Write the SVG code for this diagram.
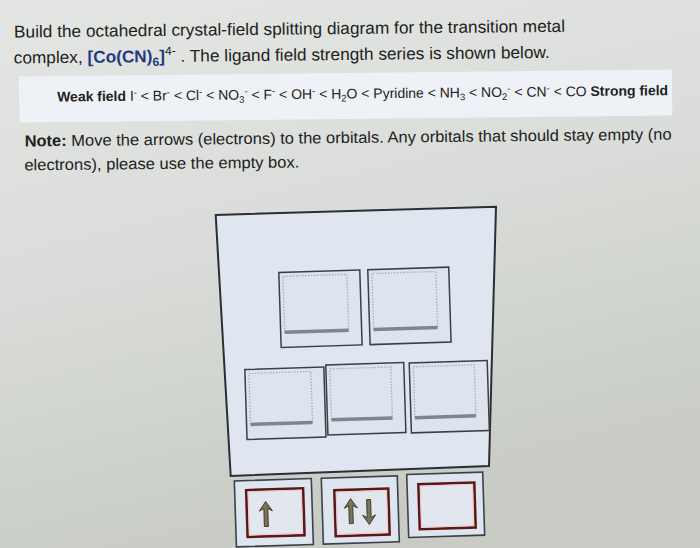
<svg xmlns="http://www.w3.org/2000/svg" width="700" height="548" viewBox="0 0 700 548">
<defs>
<linearGradient id="bg" x1="0" y1="0" x2="0.3" y2="1">
<stop offset="0" stop-color="#e4e6e3"/>
<stop offset="0.5" stop-color="#d9dcd8"/>
<stop offset="1" stop-color="#c8ccc5"/>
</linearGradient>
<path id="up" d="M0,-12.5 L6.5,-3 L2,-5.5 L2,12.5 L-2,12.5 L-2,-5.5 L-6.5,-3 Z"/>
<style>
.t{font-family:"Liberation Sans",Arial,sans-serif;fill:#222;}
.b{font-weight:bold;}
.cx{font-weight:bold;fill:#1f3a80;}
.frame{fill:#dfe6ef;stroke:#2b2f35;stroke-width:2;}
.orb{fill:#dde4ed;stroke:#3a3f46;stroke-width:1.5;}
.slot{fill:none;stroke:#a7adb6;stroke-width:1.3;stroke-dasharray:1.5 1.5;}
.bar{stroke:#7f858c;stroke-width:3.5;}
.tile{fill:#dde5ee;stroke:#3a414b;stroke-width:1.6;}
.hold{fill:#e2e6ee;stroke:#5c1616;stroke-width:2.5;}
.glow{fill:none;stroke:#efc9c9;stroke-width:1;}
.arr{fill:#7b7458;stroke:#37342a;stroke-width:0.9;}
</style>
</defs>
<rect width="700" height="548" fill="url(#bg)"/>
<g id="text" transform="rotate(-0.6 350 274)">
<text class="t" x="16.5" y="34" font-size="17" textLength="551" lengthAdjust="spacingAndGlyphs">Build the octahedral crystal-field splitting diagram for the transition metal</text>
<text class="t" x="16" y="60" font-size="17" textLength="536" lengthAdjust="spacingAndGlyphs">complex, <tspan class="cx">[Co(CN)</tspan><tspan class="cx" font-size="12" dy="4">6</tspan><tspan class="cx" dy="-4">]</tspan><tspan font-size="12" dy="-7">4-</tspan><tspan dy="7"> . The ligand field strength series is shown below.</tspan></text>
<rect id="series-box" x="21" y="73" width="653" height="46" fill="#eef1f5"/>
<text class="t" x="59" y="98.5" font-size="14" textLength="611" lengthAdjust="spacingAndGlyphs"><tspan class="b">Weak field</tspan> I<tspan font-size="9.5" dy="-5">-</tspan><tspan dy="5"> &lt; Br</tspan><tspan font-size="9.5" dy="-5">-</tspan><tspan dy="5"> &lt; Cl</tspan><tspan font-size="9.5" dy="-5">-</tspan><tspan dy="5"> &lt; NO</tspan><tspan font-size="9.5" dy="3">3</tspan><tspan font-size="9.5" dy="-8">-</tspan><tspan dy="5"> &lt; F</tspan><tspan font-size="9.5" dy="-5">-</tspan><tspan dy="5"> &lt; OH</tspan><tspan font-size="9.5" dy="-5">-</tspan><tspan dy="5"> &lt; H</tspan><tspan font-size="9.5" dy="3">2</tspan><tspan dy="-3">O &lt; Pyridine &lt; NH</tspan><tspan font-size="9.5" dy="3">3</tspan><tspan dy="-3"> &lt; NO</tspan><tspan font-size="9.5" dy="3">2</tspan><tspan font-size="9.5" dy="-8">-</tspan><tspan dy="5"> &lt; CN</tspan><tspan font-size="9.5" dy="-5">-</tspan><tspan dy="5"> &lt; CO </tspan><tspan class="b">Strong field</tspan></text>
<text class="t" x="26" y="143" font-size="16" textLength="647" lengthAdjust="spacingAndGlyphs"><tspan class="b">Note:</tspan> Move the arrows (electrons) to the orbitals. Any orbitals that should stay empty (no</text>
<text class="t" x="25.5" y="167" font-size="16" textLength="275" lengthAdjust="spacingAndGlyphs">electrons), please use the empty box.</text>
</g>
<g id="diagram">
<polygon id="frame" class="frame" points="215.7,215 496,206.7 489,466 230.7,476"/>
<g transform="rotate(-1.8 358 341)">
<g id="eg1"><rect class="orb" x="281" y="270" width="81" height="75"/><path class="slot" d="M285,330 V274 H349 V330"/><line class="bar" x1="285" y1="330" x2="349" y2="330"/></g>
<g id="eg2"><rect class="orb" x="370" y="270" width="81" height="75"/><path class="slot" d="M374,330 V274 H438 V330"/><line class="bar" x1="374" y1="330" x2="438" y2="330"/></g>
<g id="t2g1"><rect class="orb" x="244" y="366" width="79" height="70"/><path class="slot" d="M248,421 V370 H310 V421"/><line class="bar" x1="248" y1="421" x2="310" y2="421"/></g>
<g id="t2g2"><rect class="orb" x="325" y="364" width="78" height="70"/><path class="slot" d="M329,419 V368 H390 V419"/><line class="bar" x1="329" y1="419" x2="390" y2="419"/></g>
<g id="t2g3"><rect class="orb" x="408.5" y="364.5" width="78" height="70"/><path class="slot" d="M412.5,419.5 V368.5 H473.5 V419.5"/><line class="bar" x1="412.5" y1="419.5" x2="473.5" y2="419.5"/></g>
<g id="single-electron"><rect class="tile" x="230" y="477" width="77" height="66"/><rect class="hold" x="241.5" y="486.5" width="57" height="47"/><rect class="glow" x="243.5" y="488.5" width="53" height="43"/><use href="#up" class="arr" transform="translate(260.6 511)"/></g>
<g id="electron-pair"><rect class="tile" x="317" y="477" width="76" height="66"/><rect class="hold" x="329.6" y="489.4" width="54" height="46"/><rect class="glow" x="331.6" y="491.4" width="50" height="42"/><use href="#up" class="arr" transform="translate(345.6 510.8)"/><use href="#up" class="arr" transform="translate(363.6 512.3) rotate(180)"/></g>
<g id="empty-box"><rect class="tile" x="402.5" y="476" width="76" height="63"/><rect class="hold" x="413.8" y="486.1" width="56" height="45"/><rect class="glow" x="415.8" y="488.1" width="52" height="41"/></g>
</g>
</g>
</svg>
